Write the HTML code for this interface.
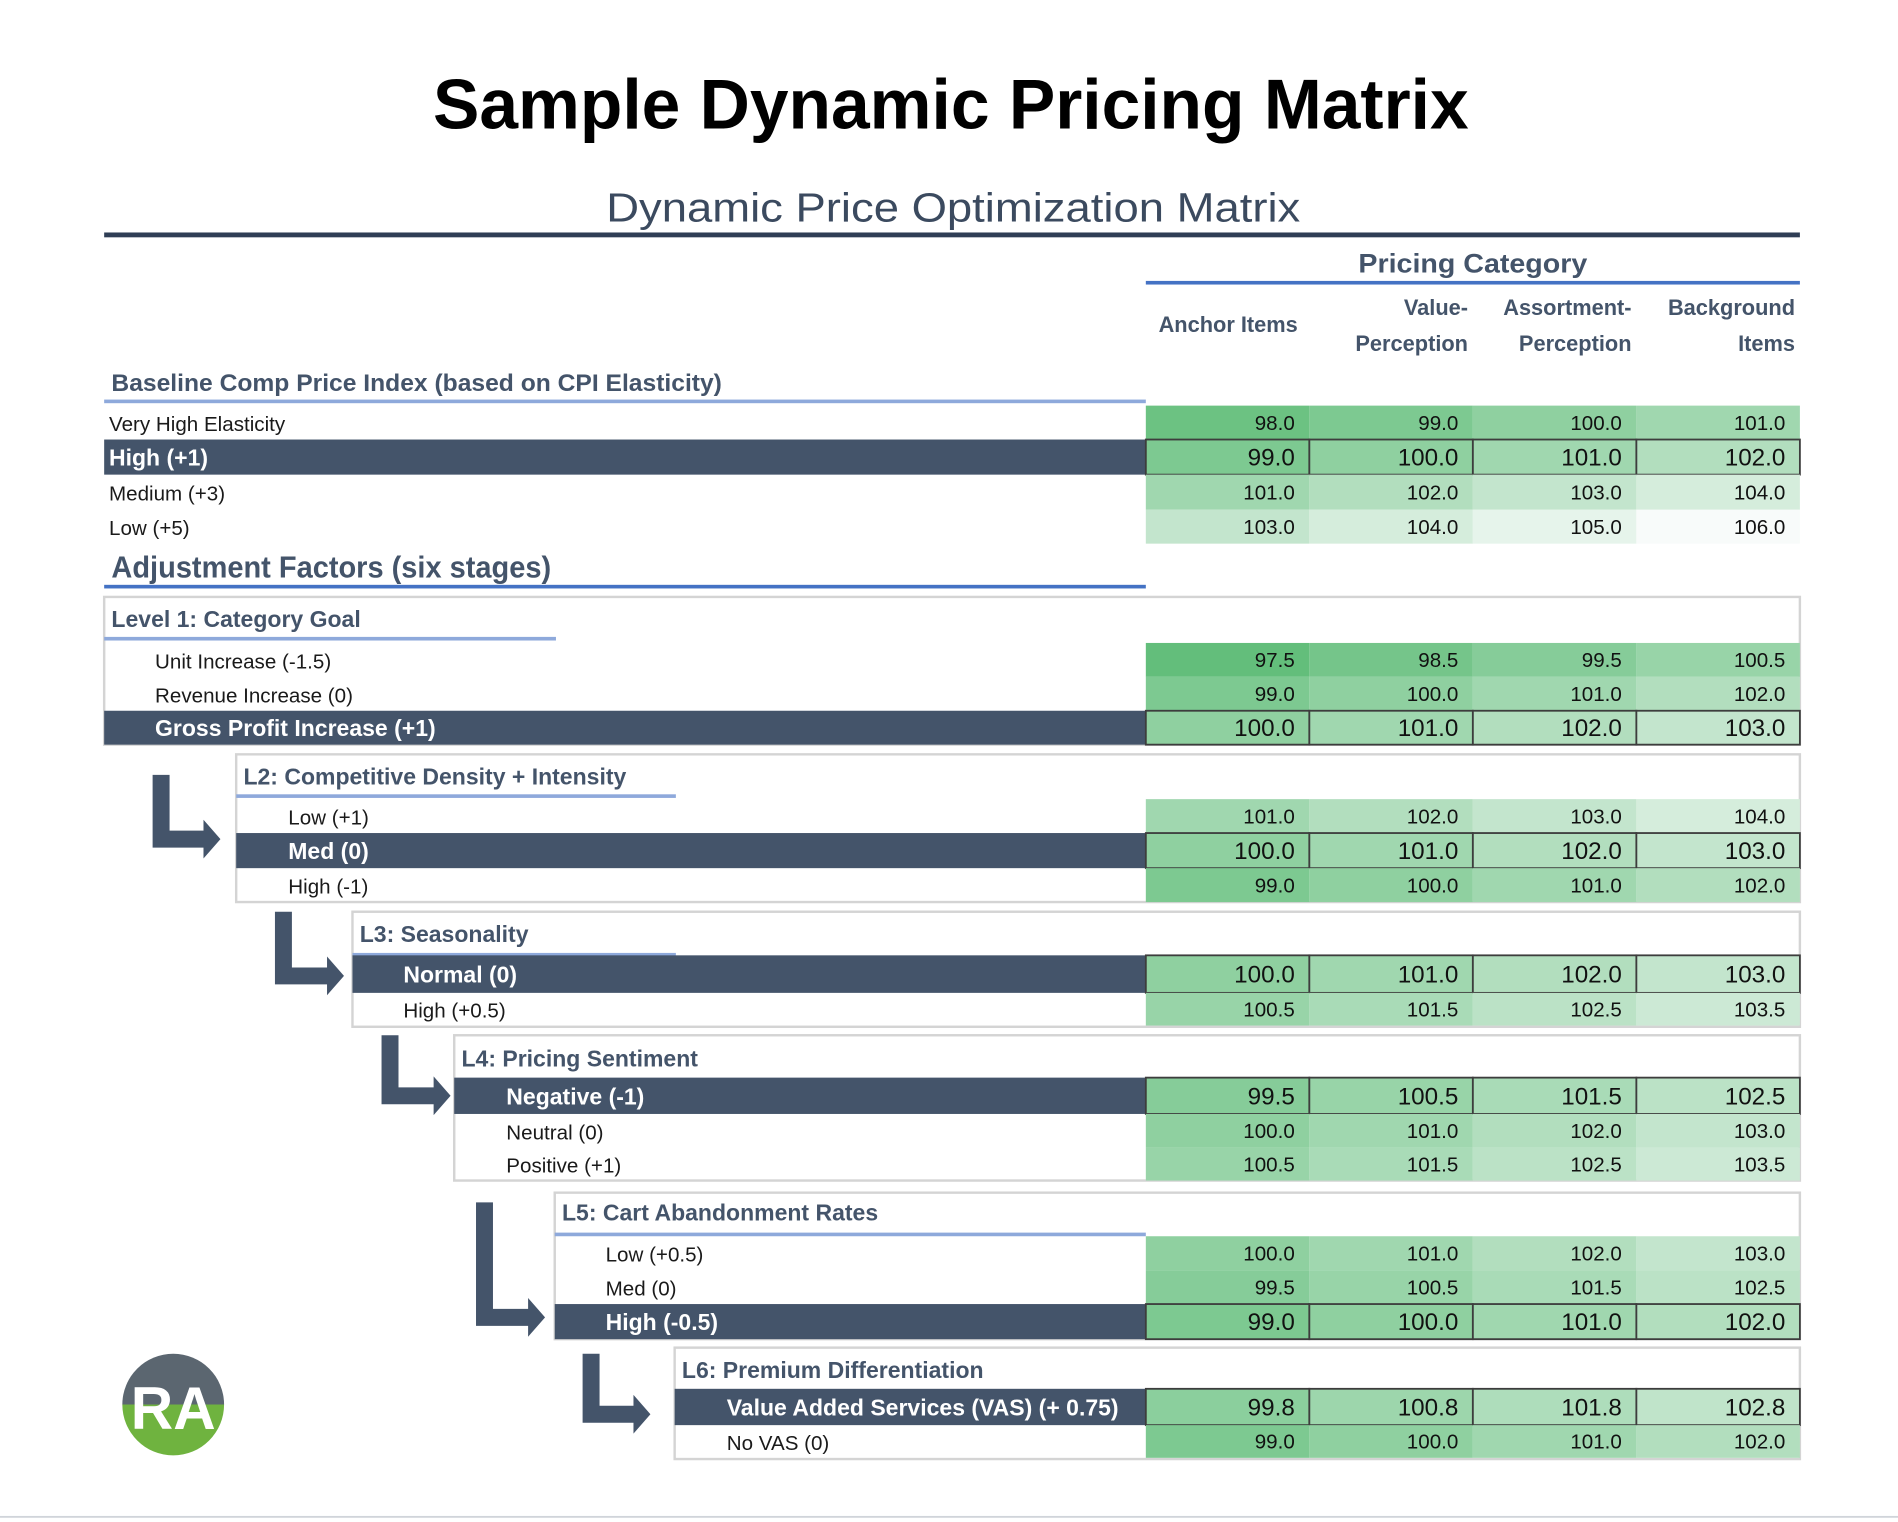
<!DOCTYPE html>
<html><head><meta charset="utf-8"><style>
html,body{margin:0;padding:0;background:#fff;}
svg{display:block;}
</style></head><body>
<svg id="chart" xmlns="http://www.w3.org/2000/svg" width="1898" height="1522" viewBox="0 0 1567 1257" preserveAspectRatio="none" font-family="'Liberation Sans', sans-serif">
<rect x="0" y="0" width="1567" height="1257" fill="#fff"/>
<text x="785" y="106" text-anchor="middle" font-size="58" font-weight="bold" fill="#000" textLength="855" lengthAdjust="spacingAndGlyphs">Sample Dynamic Pricing Matrix</text>
<text x="787" y="183" text-anchor="middle" font-size="34" fill="#3b4a5f" textLength="573" lengthAdjust="spacingAndGlyphs">Dynamic Price Optimization Matrix</text>
<rect x="86" y="192" width="1400" height="4" fill="#2f3e55"/>
<text x="1216" y="225" text-anchor="middle" font-size="22" font-weight="bold" fill="#44546a" textLength="189" lengthAdjust="spacingAndGlyphs">Pricing Category</text>
<rect x="946" y="232" width="540" height="3" fill="#4472c4"/>
<g id="headers"></g>
<text x="92" y="323" font-size="20" font-weight="bold" fill="#44546a" textLength="504" lengthAdjust="spacingAndGlyphs">Baseline Comp Price Index (based on CPI Elasticity)</text>
<rect x="86" y="330" width="860" height="3" fill="#8ea9db"/>
<text x="92" y="477" font-size="25" font-weight="bold" fill="#44546a" textLength="363" lengthAdjust="spacingAndGlyphs">Adjustment Factors (six stages)</text>
<rect x="86" y="483" width="860" height="3" fill="#4472c4"/>
<g id="body"></g>
<g>
<path d="M101,1160 A42,42 0 0 1 185,1160 Z" fill="#5b6670"/>
<path d="M101,1160 A42,42 0 0 0 185,1160 Z" fill="#6fb33f"/>
<text x="143" y="1180" text-anchor="middle" font-size="50" font-weight="bold" fill="#fff" textLength="70" lengthAdjust="spacingAndGlyphs">RA</text>
</g>
<rect x="0" y="1252" width="1567" height="1.5" fill="#d0d4da"/>
</svg>
<script>
const columns = ["Anchor Items","Value-Perception","Assortment-Perception","Background Items"];
const baselineLabels = ["Very High Elasticity","High (+1)","Medium (+3)","Low (+5)"];
const baselineValues = [[98.0,99.0,100.0,101.0],[99.0,100.0,101.0,102.0],[101.0,102.0,103.0,104.0],[103.0,104.0,105.0,106.0]];
const l1Labels = ["Unit Increase (-1.5)","Revenue Increase (0)","Gross Profit Increase (+1)"];
const l1Values = [[97.5,98.5,99.5,100.5],[99.0,100.0,101.0,102.0],[100.0,101.0,102.0,103.0]];
const l2Labels = ["Low (+1)","Med (0)","High (-1)"];
const l2Values = [[101.0,102.0,103.0,104.0],[100.0,101.0,102.0,103.0],[99.0,100.0,101.0,102.0]];
const l3Labels = ["Normal (0)","High (+0.5)"];
const l3Values = [[100.0,101.0,102.0,103.0],[100.5,101.5,102.5,103.5]];
const l4Labels = ["Negative (-1)","Neutral (0)","Positive (+1)"];
const l4Values = [[99.5,100.5,101.5,102.5],[100.0,101.0,102.0,103.0],[100.5,101.5,102.5,103.5]];
const l5Labels = ["Low (+0.5)","Med (0)","High (-0.5)"];
const l5Values = [[100.0,101.0,102.0,103.0],[99.5,100.5,101.5,102.5],[99.0,100.0,101.0,102.0]];
const l6Labels = ["Value Added Services (VAS) (+ 0.75)","No VAS (0)"];
const l6Values = [[99.8,100.8,101.8,102.8],[99.0,100.0,101.0,102.0]];
const levelTitles = ["Level 1: Category Goal","L2: Competitive Density + Intensity","L3: Seasonality","L4: Pricing Sentiment","L5: Cart Abandonment Rates","L6: Premium Differentiation"];
const selectedRows = [1,2,1,0,0,2,0];

const NS = "http://www.w3.org/2000/svg";
const colEdges = [946,1081,1216,1351,1486];
function xRight(i){ return colEdges[i+1]; }
function xLeft(i){ return colEdges[i]; }
const vMin = 97.5, vMax = 106;
function colorFor(v){
  const t = Math.max(0, Math.min(1, (v - vMin) / (vMax - vMin)));
  const a = [99,190,123], b = [248,251,250];
  return "rgb(" + a.map((c,k)=>Math.round(c + (b[k]-c)*t)).join(",") + ")";
}
function mk(tag, attrs, parent){
  const e = document.createElementNS(NS, tag);
  for (const k in attrs) e.setAttribute(k, attrs[k]);
  parent.appendChild(e);
  return e;
}

const hg = document.getElementById("headers");
columns.forEach((c,i)=>{
  const t = mk("text",{x: i===0 ? 1014 : xRight(i)-4, y: i===0 ? 274 : 260, "text-anchor": i===0?"middle":"end", "font-size":18, "font-weight":"bold", fill:"#44546a"}, hg);
  
  
  if (i===0){ t.textContent = c; }
  else {
    const parts = c.indexOf("-")>=0 ? [c.split("-")[0]+"-", c.split("-")[1]] : c.split(" ");
    const s1 = mk("tspan",{x: xRight(i)-4, dy:0}, t); s1.textContent = parts[0];
    const s2 = mk("tspan",{x: xRight(i)-4, dy:30}, t); s2.textContent = parts[1];
  }
});

const sections = [
  {labels: baselineLabels, values: baselineValues, sel: selectedRows[0], bandX:86, labelX:90, tops:[335,363,392,421,449], name:"baseline"},
  {labels: l1Labels, values: l1Values, sel: selectedRows[1], bandX:86, labelX:128, tops:[531,559,587,615], box:[86,493,615], titleY:518, rule:[86,459,526], name:"level-1"},
  {labels: l2Labels, values: l2Values, sel: selectedRows[2], bandX:195, labelX:238, tops:[660,688,717,745], box:[195,623,745], titleY:648, rule:[195,558,656], arrow:[133,640,693,182], name:"level-2"},
  {labels: l3Labels, values: l3Values, sel: selectedRows[3], bandX:291, labelX:333, tops:[789,820,847], box:[291,753,848], titleY:778, rule:[291,558,787], arrow:[234,753,806,284], name:"level-3"},
  {labels: l4Labels, values: l4Values, sel: selectedRows[4], bandX:375, labelX:418, tops:[890,920,948,975], box:[375,855,975], titleY:881, arrow:[322,855,905,372], name:"level-4"},
  {labels: l5Labels, values: l5Values, sel: selectedRows[5], bandX:458, labelX:500, tops:[1021,1049,1077,1106], box:[458,985,1106], titleY:1008, rule:[458,946,1018], arrow:[400,993,1088,450], name:"level-5"},
  {labels: l6Labels, values: l6Values, sel: selectedRows[6], bandX:557, labelX:600, tops:[1147,1177,1204], box:[557,1113,1205], titleY:1138, arrow:[488,1118,1168,537], name:"level-6"}
];

const body = document.getElementById("body");
sections.forEach((s, si)=>{
  const g = mk("g",{}, body);
  
  
  if (s.box){
    const b = mk("rect",{x:s.box[0], y:s.box[1], width:1486-s.box[0], height:s.box[2]-s.box[1], fill:"#fff", stroke:"#d4d4d4", "stroke-width":2}, g);
    
    
    const tt = mk("text",{x:s.box[0]+6, y:s.titleY, "font-size":19, "font-weight":"bold", fill:"#44546a"}, g);
    
    
    tt.textContent = levelTitles[si-1];
    if (s.rule){
      const r = mk("rect",{x:s.rule[0], y:s.rule[2], width:s.rule[1]-s.rule[0], height:3, fill:"#8ea9db"}, g);
      
      
    }
  }
  if (s.arrow){
    const [ax,y0,y1,tip] = s.arrow;
    const w = 7;
    const p = mk("path",{d:`M${ax-w},${y0} L${ax+w},${y0} L${ax+w},${y1-w} L${tip-14},${y1-w} L${tip-14},${y1-16} L${tip},${y1} L${tip-14},${y1+16} L${tip-14},${y1+w} L${ax-w},${y1+w} Z`, fill:"#44546a"}, g);
    
    
  }
  s.labels.forEach((lab, ri)=>{
    const top = s.tops[ri], bot = s.tops[ri+1], cy = (top+bot)/2;
    const isSel = ri === s.sel;
    const rg = mk("g",{}, g);
    
    
    if (isSel){
      const band = mk("rect",{x:s.bandX, y:top, width:946-s.bandX, height:bot-top, fill:"#44546a"}, rg);
      
      
    }
    const lt = mk("text",{x:s.labelX, y:cy+7, "font-size": isSel?19:17, "font-weight": isSel?"bold":"normal", fill: isSel?"#fff":"#1a1a1a"}, rg);
    
    
    lt.textContent = lab;
    s.values[ri].forEach((v, ci)=>{
      const c = mk("rect",{x:xLeft(ci), y:top, width:xRight(ci)-xLeft(ci), height:bot-top, fill:colorFor(v), stroke: isSel?"#3d3d3d":"none", "stroke-width": isSel?1.5:0}, rg);
      
      
      const vt = mk("text",{x:xRight(ci)-12, y:cy+(isSel?7:6), "text-anchor":"end", "font-size": isSel?20:17, fill:"#111"}, rg);
      
      
      vt.textContent = v.toFixed(1);
    });
  });
});
</script>
</body></html>
